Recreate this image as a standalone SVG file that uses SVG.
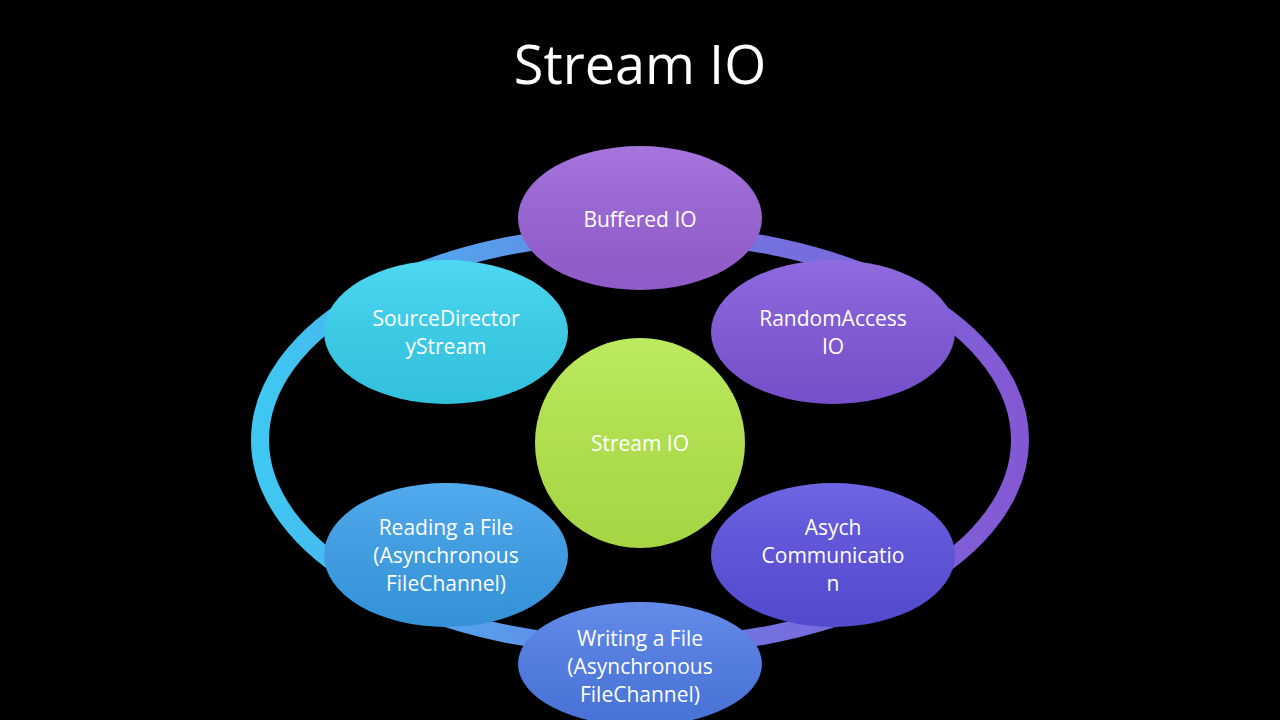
<svg xmlns="http://www.w3.org/2000/svg" width="1280" height="720" viewBox="0 0 1280 720">
<defs>
<linearGradient id="ring" x1="0" y1="0" x2="1" y2="0">
<stop offset="0" stop-color="#3ec8f2"/><stop offset="0.5" stop-color="#6a7ee6"/><stop offset="1" stop-color="#8458d4"/>
</linearGradient>
<linearGradient id="shade" x1="0" y1="0" x2="0" y2="1">
<stop offset="0" stop-color="#fff" stop-opacity="0.12"/><stop offset="1" stop-color="#000" stop-opacity="0.08"/>
</linearGradient>
<style>
text{font-family:"Open Sans","Liberation Sans",sans-serif;fill:#fff;text-anchor:middle}
.t{font-size:21px}
</style>
</defs>
<rect width="1280" height="720" fill="#000"/>
<text x="640" y="84" style="font-size:54px">Stream IO</text>
<g id="connectors">
<ellipse cx="640" cy="440" rx="380" ry="207" fill="none" stroke="url(#ring)" stroke-width="18"/>
</g>
<g id="buffered"><ellipse cx="640" cy="218" rx="122" ry="72" fill="#9a62d8"/><ellipse cx="640" cy="218" rx="122" ry="72" fill="url(#shade)"/><text class="t" x="640" y="227">Buffered IO</text></g>
<g id="random"><ellipse cx="833" cy="332" rx="122" ry="72" fill="#8057dc"/><ellipse cx="833" cy="332" rx="122" ry="72" fill="url(#shade)"/><text class="t" x="833" y="326">RandomAccess</text><text class="t" x="833" y="354">IO</text></g>
<g id="asych"><ellipse cx="833" cy="555" rx="122" ry="72" fill="#5a50e0"/><ellipse cx="833" cy="555" rx="122" ry="72" fill="url(#shade)"/><text class="t" x="833" y="535">Asych</text><text class="t" x="833" y="563">Communicatio</text><text class="t" x="833" y="591">n</text></g>
<g id="writing"><ellipse cx="640" cy="664" rx="122" ry="62" fill="#4e7ce8"/><ellipse cx="640" cy="664" rx="122" ry="62" fill="url(#shade)"/><text class="t" x="640" y="646">Writing a File</text><text class="t" x="640" y="674">(Asynchronous</text><text class="t" x="640" y="702">FileChannel)</text></g>
<g id="reading"><ellipse cx="446" cy="555" rx="122" ry="72" fill="#3a9fea"/><ellipse cx="446" cy="555" rx="122" ry="72" fill="url(#shade)"/><text class="t" x="446" y="535">Reading a File</text><text class="t" x="446" y="563">(Asynchronous</text><text class="t" x="446" y="591">FileChannel)</text></g>
<g id="source"><ellipse cx="446" cy="332" rx="122" ry="72" fill="#36d2f0"/><ellipse cx="446" cy="332" rx="122" ry="72" fill="url(#shade)"/><text class="t" x="446" y="326">SourceDirector</text><text class="t" x="446" y="354">yStream</text></g>
<g id="center"><circle cx="640" cy="443" r="105" fill="#b4e84a"/><circle cx="640" cy="443" r="105" fill="url(#shade)"/><text class="t" x="640" y="451">Stream IO</text></g>
</svg>
